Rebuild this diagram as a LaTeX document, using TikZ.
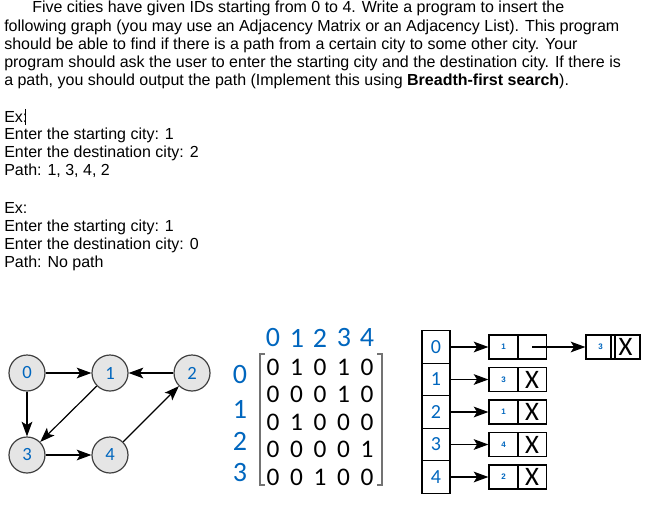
\documentclass[tikz,border=0pt]{standalone}
\usepackage{fontspec}
\setmainfont{Liberation Sans}
\newfontfamily\carl{Carlito}
\usetikzlibrary{arrows.meta}
\definecolor{idblue}{RGB}{0,102,190}
\begin{document}
\begin{tikzpicture}[x=0.75pt,y=-0.75pt,
  txt/.style={anchor=west,inner sep=0pt,font=\fontsize{12}{13}\selectfont},
  gn/.style={circle,draw=black!75,line width=0.9pt,fill=black!10,minimum size=36*0.75pt,inner sep=0pt,text=idblue,font=\carl\fontsize{14}{14}\selectfont},
  arr/.style={line width=0.9pt,-{Stealth[length=11pt,width=8pt,inset=2.5pt]}},
  hd/.style={text=idblue,inner sep=0pt,font=\carl\fontsize{21}{21}\selectfont},
  mx/.style={inner sep=0pt,font=\carl\fontsize{19}{19}\selectfont},
  cell/.style={draw,line width=0.9pt,minimum width=28*0.75pt,minimum height=32.5*0.75pt,inner sep=0pt,text=idblue,font=\carl\fontsize{15}{15}\selectfont},
  dc/.style={draw,line width=0.9pt,minimum width=29*0.75pt,minimum height=24*0.75pt,inner sep=0pt,text=idblue,font=\fontsize{6}{7}\selectfont\bfseries},
  xc/.style={draw,line width=0.9pt,minimum width=29*0.75pt,minimum height=24*0.75pt,inner sep=0pt,font=\carl\fontsize{20}{20}\selectfont}]
\useasboundingbox (0,0) rectangle (648,513);
% text
\node[txt] (t1) at (32,8) {Five cities have given IDs starting from 0 to 4. Write a program to insert the};
\node[txt] (t2) at (4,27) {following graph (you may use an Adjacency Matrix or an Adjacency List). This program};
\node[txt] (t3) at (4,45) {should be able to find if there is a path from a certain city to some other city. Your};
\node[txt] (t4) at (4,63) {program should ask the user to enter the starting city and the destination city. If there is};
\node[txt] (t5) at (4,81) {a path, you should output the path (Implement this using \textbf{Breadth-first search}).};
\node[txt] (e1) at (4,117) {Ex:};
\draw[line width=0.5pt] (25,109) -- (25,125);
\node[txt] (e2) at (4,135) {Enter the starting city: 1};
\node[txt] (e3) at (4,153) {Enter the destination city: 2};
\node[txt] (e4) at (4,171) {Path: 1, 3, 4, 2};
\node[txt] (f1) at (4,208) {Ex:};
\node[txt] (f2) at (4,227) {Enter the starting city: 1};
\node[txt] (f3) at (4,245) {Enter the destination city: 0};
\node[txt] (f4) at (4,263) {Path: No path};
% graph
\node[gn] (g0) at (27,373) {0};
\node[gn] (g1) at (110,373) {1};
\node[gn] (g2) at (192,373) {2};
\node[gn] (g3) at (27,455) {3};
\node[gn] (g4) at (110,455) {4};
\draw[arr] (g0) -- (g1);
\draw[arr] (g2) -- (g1);
\draw[arr] (g0) -- (g3);
\draw[arr] (g1) -- (g3);
\draw[arr] (g3) -- (g4);
\draw[arr] (g4) -- (g2);
% matrix
\foreach \c/\x in {0/273,1/297,2/320,3/344,4/367} \node[hd] (h\c) at (\x,338) {\c};
\foreach \r/\y in {0/375,1/409,2/441,3/473} \node[hd] (r\r) at (240,\y) {\r};
\foreach \row [count=\i from 0] in {{0,1,0,1,0},{0,0,0,1,0},{0,1,0,0,0},{0,0,0,0,1},{0,0,1,0,0}}{
  \foreach \v [count=\j from 0] in \row
    \node[mx] (m\i\j) at (273+23.5*\j,367+27.5*\i) {\v};
}
\draw[black!55,line width=0.8pt] (265,354) -- (260,354) -- (260,485) -- (265,485);
\draw[black!55,line width=0.8pt] (377,354) -- (382,354) -- (382,485) -- (377,485);
% adjacency list
\foreach \k in {0,...,4} \node[cell] (a\k) at (436,347+32.5*\k) {\k};
\foreach \k/\v in {0/1,1/3,2/1,3/4,4/2}{
  \node[dc] (d\k) at (503.5,347+32.5*\k) {\v};
  \draw[arr] (a\k.east) -- (d\k.west);
}
\node[dc] (p0) at (532,347) {};
\foreach \k in {1,...,4} \node[xc] (x\k) at (532,347+32.5*\k) {X};
\node[dc] (d5) at (600.5,347) {3};
\node[xc] (x5) at (625.5,347) {X};
\coordinate (p0c) at (532,347);
\draw[arr] (p0c) -- (d5.west);
\end{tikzpicture}
\end{document}
